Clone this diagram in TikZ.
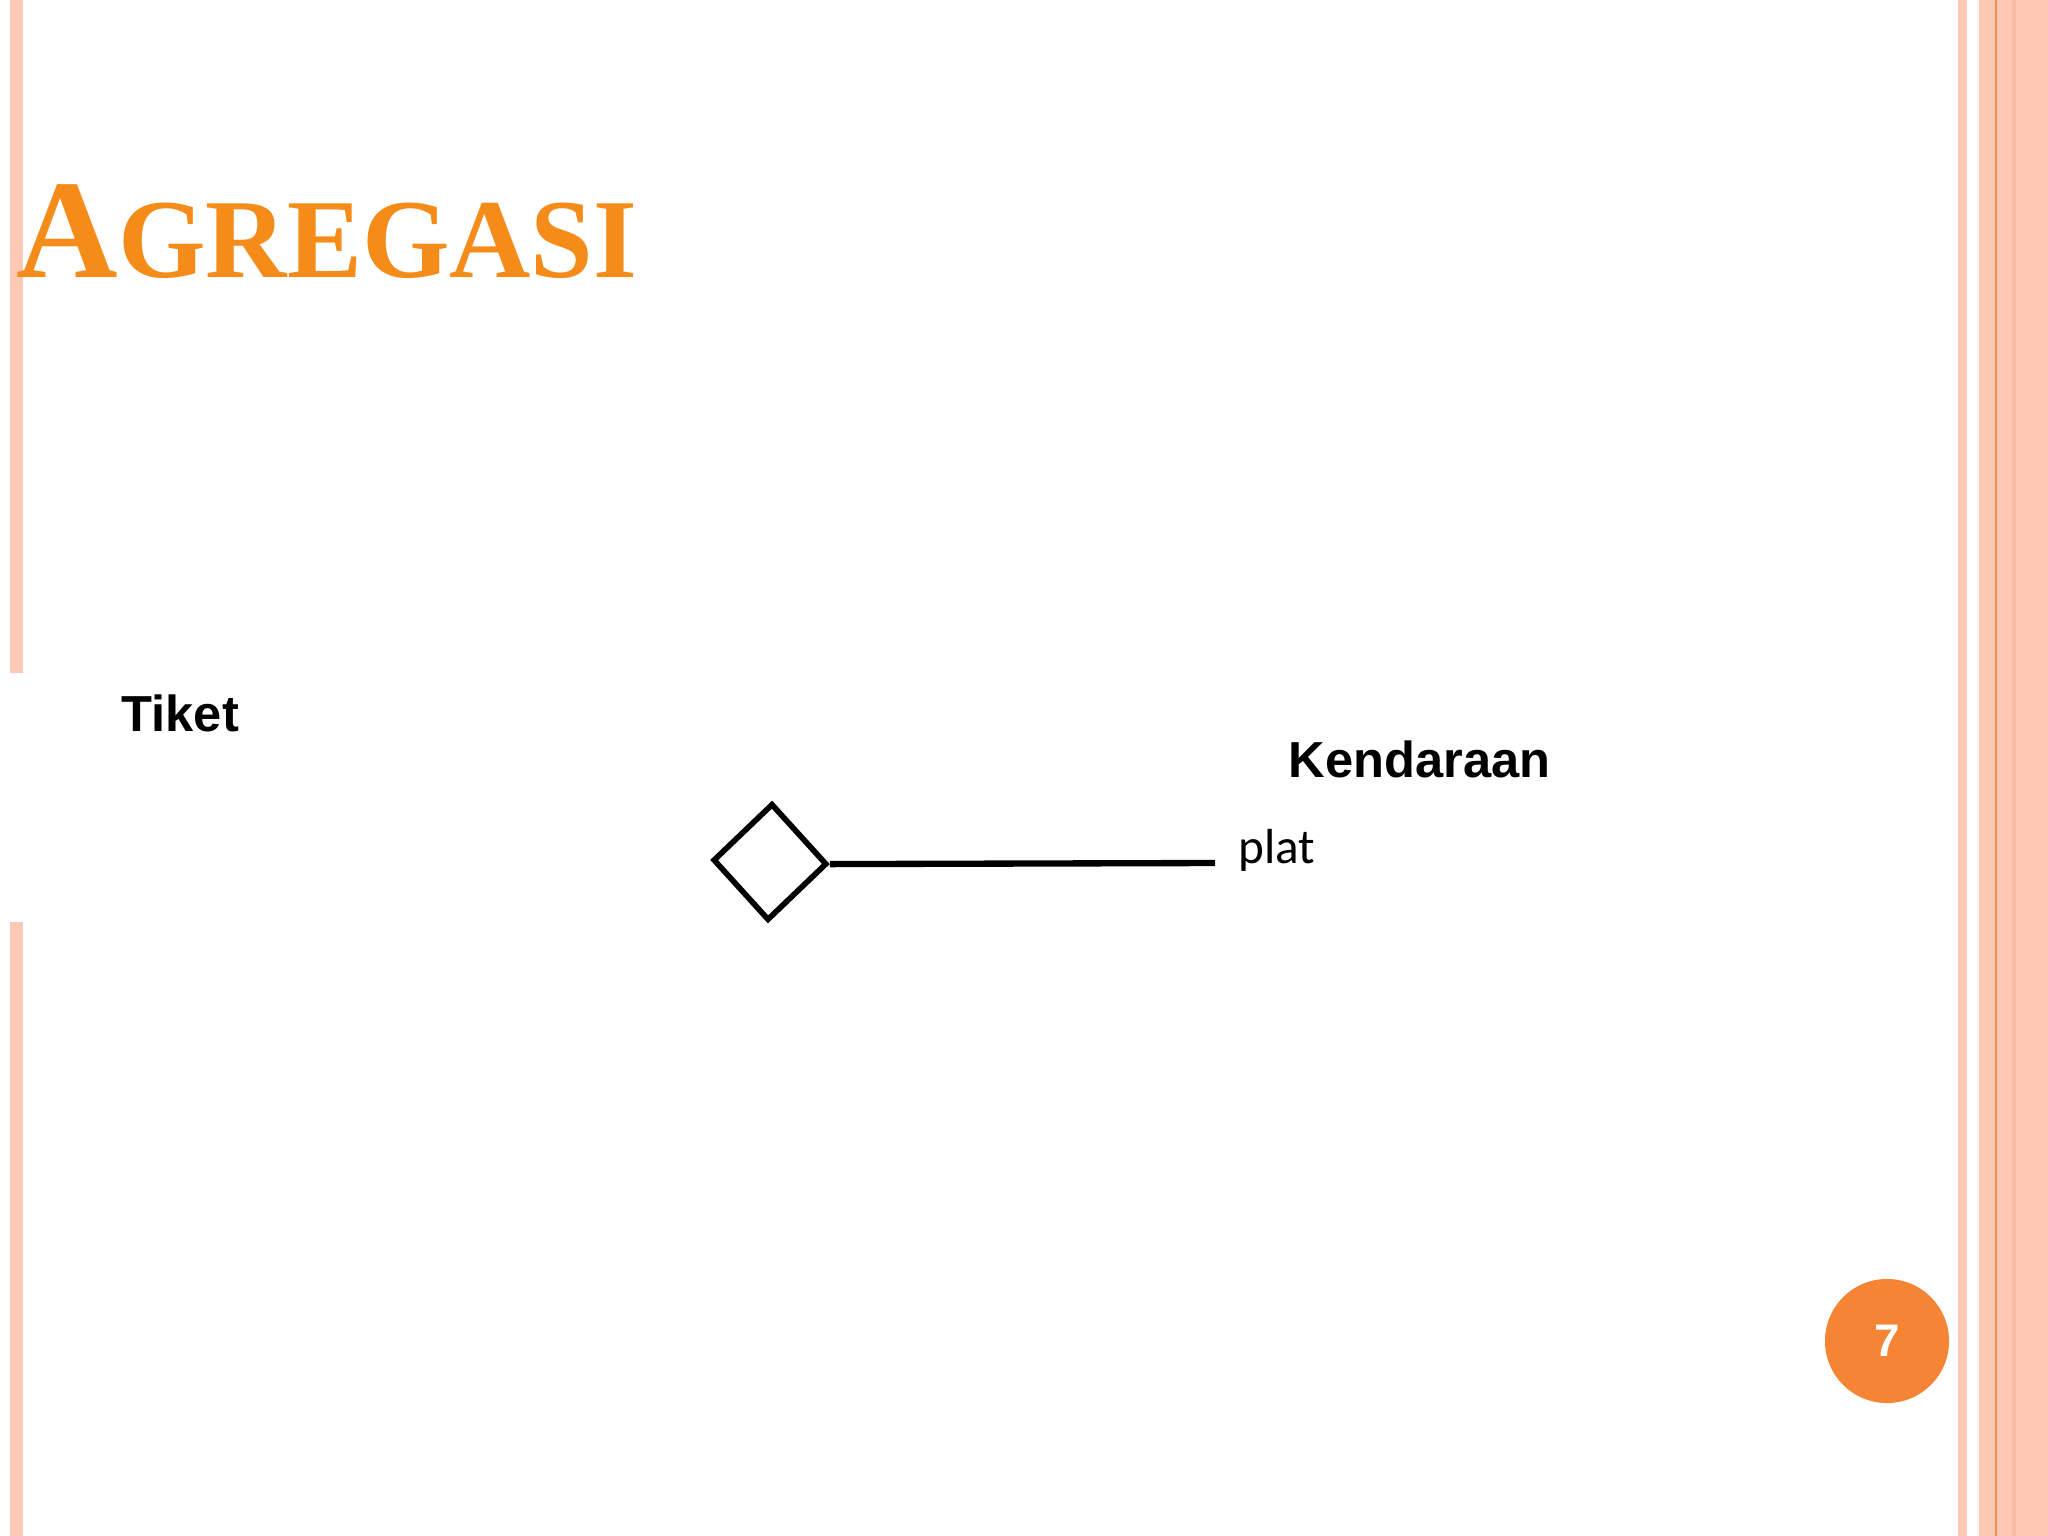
\documentclass[tikz,border=0pt]{standalone}
\usepackage{fontspec}
\usetikzlibrary{positioning,shapes.geometric}
\newfontfamily\headfont{Liberation Serif}
\newfontfamily\labelfont{Liberation Sans}
\newfontfamily\attrfont{Carlito}
\definecolor{stripe}{RGB}{253,200,180}
\definecolor{stripedark}{RGB}{251,188,165}
\definecolor{stripeline}{RGB}{243,145,85}
\definecolor{titleorange}{RGB}{245,140,25}
\definecolor{badge}{RGB}{245,132,52}

\begin{document}
\begin{tikzpicture}[x=0.01cm,y=-0.01cm,
	classname/.style={font={\labelfont\bfseries\fontsize{14.4}{17}\selectfont}, inner sep=0, anchor=base west},
	attrname/.style={font={\attrfont\fontsize{14}{17}\selectfont}, inner sep=0},
	link/.style={draw, line width=1.8pt}
	]
	\fill[white] (0,0) rectangle (2048,1536);
	\useasboundingbox (0,0) rectangle (2048,1536);
	
	\fill[stripe] (10,0) rectangle (23,673);
	\fill[stripe] (10,922) rectangle (23,1536);
	\fill[stripe] (1958,0) rectangle (1967,1536);
	\fill[stripe] (1979,0) rectangle (2048,1536);
	\fill[stripedark] (2012,0) rectangle (2016,1536);
	\fill[stripeline] (1995,0) rectangle (1997,1536);
	
	\node[anchor=base west, inner sep=0, text=titleorange] (title) at (16,277)
		{{\headfont\bfseries\fontsize{40}{40}\selectfont A}{\headfont\bfseries\fontsize{32}{32}\selectfont GREGASI}};
	
	\node[classname] (tiket) at (121,731) {Tiket};
	\node[classname] (kendaraan) at (1288,777) {Kendaraan};
	
	\node[diamond, draw, line width=1.6pt, minimum width=1.14cm, minimum height=1.17cm, inner sep=0, rotate=-2] (agg) at (770,862) {};
	\coordinate (lineend) at (1215,863);
	\node[attrname, right=0.23cm of lineend, anchor=base west] (plat) {plat};
	
	\path[link] (agg.east) -- (lineend);
	
	\node[circle, fill=badge, minimum size=1.24cm, inner sep=0, text=white, font={\labelfont\bfseries\fontsize{13}{15}\selectfont}] (page) at (1887,1341) {7};
\end{tikzpicture}
\end{document}
